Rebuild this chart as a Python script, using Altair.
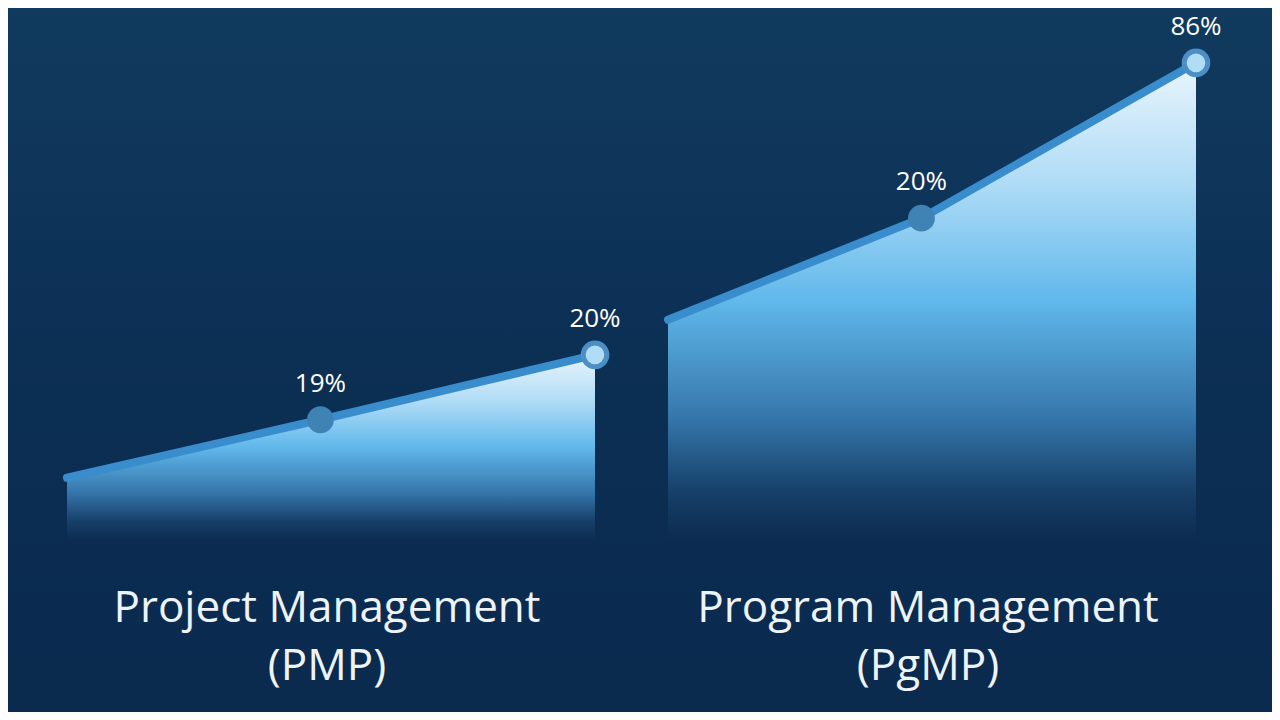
import altair as alt
import pandas as pd

# ---- data ----
cert_codes = ["PMP", "PgMP"]
cert_titles = ["Project Management\n(PMP)", "Program Management\n(PgMP)"]
stage_kinds = ["start", "mid", "end"]
stage_pos = [0.0, 0.48, 1.0]
values_pmp = [11.7, 22.6, 34.8]
values_pgmp = [41.4, 60.5, 89.7]
labels_pmp = ["", "19%", "20%"]
labels_pgmp = ["", "20%", "86%"]

rows = []
for code, title, vals, labs in [
    (cert_codes[0], cert_titles[0], values_pmp, labels_pmp),
    (cert_codes[1], cert_titles[1], values_pgmp, labels_pgmp),
]:
    for kind, s, v, lab in zip(stage_kinds, stage_pos, vals, labs):
        rows.append({"cert": code, "title": title, "kind": kind,
                     "stage": s, "value": v, "label": lab})
df = pd.DataFrame(rows)

PANEL_W = 528
PANEL_H = 696
FONT = "Open Sans"

x = alt.X("stage:Q", axis=None, scale=alt.Scale(domain=[0, 1], nice=False, zero=False))
y = alt.Y("value:Q", axis=None,
          scale=alt.Scale(domain=[-30.83, 100], nice=False, zero=False))

bg = alt.Chart().mark_rect(
    fill=alt.Gradient(
        gradient="linear", x1=0, y1=0, x2=0, y2=1,
        stops=[alt.GradientStop(offset=0, color="#113a5f"),
               alt.GradientStop(offset=0.5, color="#0c2f54"),
               alt.GradientStop(offset=1, color="#0a2a4e")],
    )
).encode(
    x=alt.value(-59), x2=alt.value(1205), y=alt.value(0), y2=alt.value(704)
).transform_filter(
    (alt.datum.cert == cert_codes[0]) & (alt.datum.kind == "start")
)

area = alt.Chart().mark_area(
    fill=alt.Gradient(
        gradient="linear", x1=0, y1=0, x2=0, y2=1,
        stops=[alt.GradientStop(offset=0, color="#e9f5fc"),
               alt.GradientStop(offset=0.25, color="#b0dcf6"),
               alt.GradientStop(offset=0.5, color="#60b8eb"),
               alt.GradientStop(offset=0.75, color="#3474a9"),
               alt.GradientStop(offset=0.9, color="#163f68"),
               alt.GradientStop(offset=1, color="#0c2c50")],
    )
).encode(x=x, y=y, y2=alt.datum(0))

line = alt.Chart().mark_line(color="#3a8dcc", strokeWidth=8, strokeCap="round").encode(x=x, y=y)

mid_pts = alt.Chart().mark_circle(size=720, color="#3f82b4", opacity=1).encode(
    x=x, y=y).transform_filter(alt.datum.kind == "mid")

end_pts = alt.Chart().mark_point(
    shape="circle", size=560, filled=True, fill="#b0dcf6",
    stroke="#4b8fc4", strokeWidth=5, opacity=1
).encode(x=x, y=y).transform_filter(alt.datum.kind == "end")

labels = alt.Chart().mark_text(
    dy=-36, fontSize=26, font=FONT, fontWeight=500, color="#ffffff", baseline="middle"
).encode(x=x, y=y, text="label:N").transform_filter(alt.datum.kind != "start")

titles = alt.Chart().mark_text(
    fontSize=44, font=FONT, color="#eef3f8", align="center",
    baseline="alphabetic", lineBreak="\n", lineHeight=58
).encode(
    x=alt.value(PANEL_W / 2 - 4), y=alt.value(614), text="title:N"
).transform_filter(alt.datum.kind == "start")

layered = alt.layer(bg, area, line, mid_pts, end_pts, labels, titles).properties(
    width=PANEL_W, height=PANEL_H
)

chart = layered.facet(
    data=df,
    column=alt.Column("cert:N", sort=cert_codes, title=None,
                      header=alt.Header(labels=False, title=None)),
    spacing=73,
).properties(
    bounds="flush",
    padding=0,
    background="#0b2b50",
).configure_view(stroke=None)

chart.save("out.html", embed_options={"renderer": "svg", "actions": False})
